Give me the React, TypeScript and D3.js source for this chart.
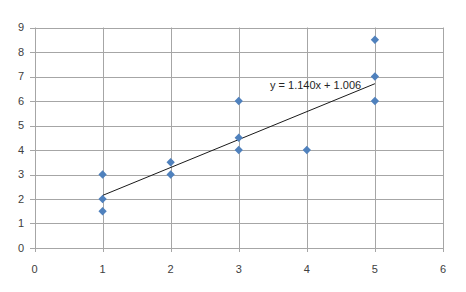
import React from "react";
import * as d3 from "d3";

const xValues = [1, 1, 1, 2, 2, 3, 3, 3, 4, 5, 5, 5];
const yValues = [3, 2, 1.5, 3.5, 3, 6, 4.5, 4, 4, 8.5, 7, 6];
const xTicks = [0, 1, 2, 3, 4, 5, 6];
const yTicks = [0, 1, 2, 3, 4, 5, 6, 7, 8, 9];
const trendSlope = 1.14;
const trendIntercept = 1.006;
const trendRange = [1, 5];
const trendLabel = "y = 1.140x + 1.006";

export default function App() {
  const W = 466, H = 292;
  const x = d3.scaleLinear().domain([0, 6]).range([34.5, 443]);
  const y = d3.scaleLinear().domain([0, 9]).range([248, 27.5]);
  const grid = "#a6a6a6";
  const font = "'Liberation Sans', Arial, sans-serif";
  const diamond = d3.symbol().type(d3.symbolDiamond2).size(44)() as string;
  const line = d3.line<number>().x((d) => x(d)).y((d) => y(trendSlope * d + trendIntercept));
  return (
    <svg width={W} height={H} style={{ position: "absolute", left: 0, top: 0, background: "#fff" }}>
      <rect width={W} height={H} fill="#fff" />
      {yTicks.map((t) => (
        <g key={"y" + t}>
          <line x1={30} x2={x(6)} y1={Math.round(y(t)) + 0.5} y2={Math.round(y(t)) + 0.5} stroke={grid} strokeWidth={1} />
          <text x={24} y={y(t)} dy="0.35em" textAnchor="end" fontFamily={font} fontSize={11} fill="#404040">{t}</text>
        </g>
      ))}
      {xTicks.map((t) => (
        <g key={"x" + t}>
          <line x1={Math.round(x(t)) + 0.5} x2={Math.round(x(t)) + 0.5} y1={y(9)} y2={252} stroke={grid} strokeWidth={1} />
          <text x={x(t)} y={269} dy="0.35em" textAnchor="middle" fontFamily={font} fontSize={11} fill="#404040">{t}</text>
        </g>
      ))}
      <path d={line(trendRange) as string} stroke="#1a1a1a" strokeWidth={1} fill="none" />
      {xValues.map((xv, i) => (
        <path key={"p" + i} d={diamond} transform={`translate(${x(xv)},${y(yValues[i])})`} fill="#4f81bd" />
      ))}
      <text x={270} y={85} dy="0.35em" fontFamily={font} fontSize={11} fill="#262626">{trendLabel}</text>
    </svg>
  );
}
